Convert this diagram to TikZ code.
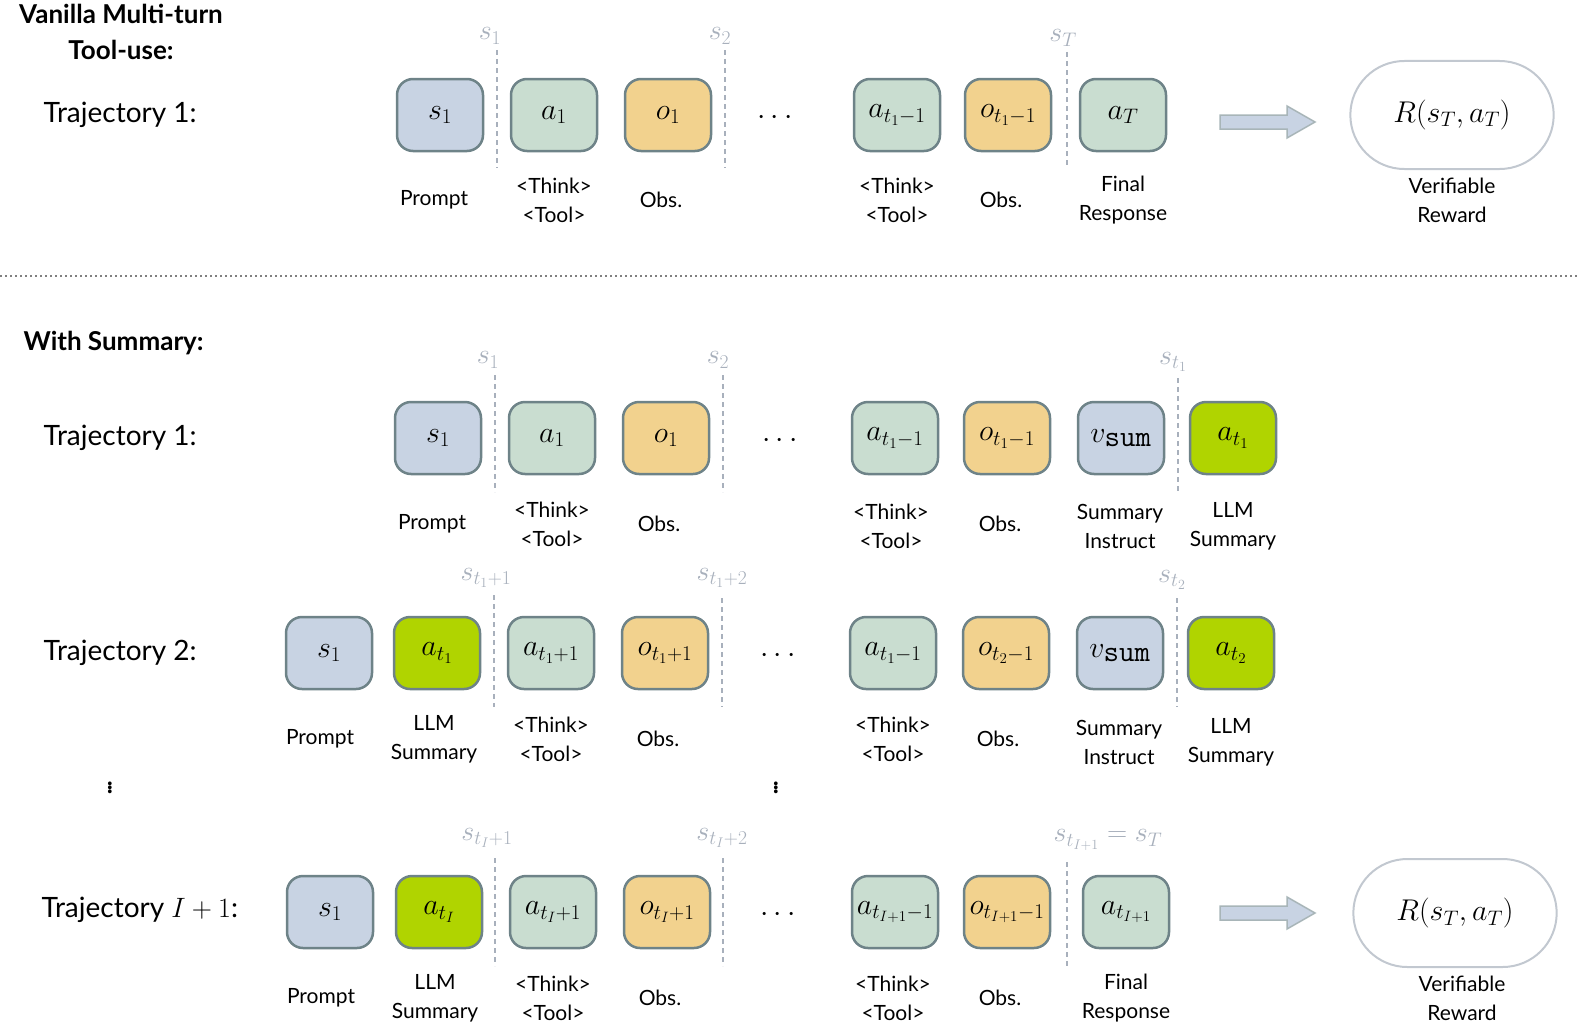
\RequirePackage{fix-cm}
\documentclass[tikz,border=0pt]{standalone}
\usepackage{fontspec}
\setmainfont{Lato}
\usetikzlibrary{arrows.meta,shapes.misc}
\definecolor{cb}{HTML}{C8D3E3}
\definecolor{cg}{HTML}{C9DDD0}
\definecolor{co}{HTML}{F2D28E}
\definecolor{cl}{HTML}{B0D400}
\definecolor{bd}{HTML}{6E8388}
\definecolor{lg}{HTML}{A8B0BC}
\tikzset{
 bx/.style={draw=bd,line width=2.5pt,rounded corners=16pt,minimum width=86pt,minimum height=72pt,inner sep=0pt,font=\fontsize{30}{30}\selectfont},
 cpt/.style={align=center,font=\fontsize{21}{29}\selectfont},
 trj/.style={anchor=west,font=\fontsize{28}{30}\selectfont},
 hd/.style={align=center,font=\fontsize{26}{36}\selectfont\bfseries},
 sl/.style={text=lg,font=\fontsize{28}{28}\selectfont},
 dl/.style={draw=lg,line width=2pt,dash pattern=on 5pt off 4pt},
 dots/.style={font=\fontsize{30}{30}\selectfont},
 rw/.style={draw=lg!70,line width=2pt,rounded rectangle,minimum width=210pt,minimum height=108pt,font=\fontsize{30}{30}\selectfont},
 ar/.style={draw=bd!60,fill=cb,line width=1.5pt,line join=miter},
}
\newcommand{\bigarrow}[2]{\draw[ar] (#1-47,#2-7) -- (#1+20,#2-7) -- (#1+20,#2-16) -- (#1+48,#2) -- (#1+20,#2+16) -- (#1+20,#2+7) -- (#1-47,#2+7) -- cycle;}
\begin{document}
\begin{tikzpicture}[x=1pt,y=-1pt]
\useasboundingbox (0,0) rectangle (1578,1033);
% headings
\node[hd] (h1) at (121,32) {Vanilla Multi-turn\\Tool-use:};
\node[hd,anchor=west] (h2) at (20,343) {With Summary:};
\draw[dash pattern=on 2pt off 3pt,line width=1.2pt,draw=gray] (0,276) coordinate (l1) -- (1578,276) coordinate (l2);
% ---------- Row 0
\node[trj] (t0) at (40,115) {Trajectory 1:};
\node[bx,fill=cb] (r0a) at (440,115) {$s_1$};
\node[bx,fill=cg] (r0b) at (554,115) {$a_1$};
\node[bx,fill=co] (r0c) at (668,115) {$o_1$};
\node[dots] (r0d) at (775,118) {$\cdots$};
\node[bx,fill=cg] (r0e) at (897,115) {$a_{t_1-1}$};
\node[bx,fill=co] (r0f) at (1008,115) {$o_{t_1-1}$};
\node[bx,fill=cg] (r0g) at (1123,115) {$a_T$};
\draw[dl] (497,50) -- (497,168); \draw[dl] (725,50) -- (725,168); \draw[dl] (1067,52) -- (1067,168);
\node[sl] (r0s1) at (490,36) {$s_1$};
\node[sl] (r0s2) at (720,36) {$s_2$};
\node[sl] (r0s3) at (1063,38) {$s_T$};
\node[cpt] at (434,200) {Prompt};
\node[cpt] at (554,200) {<Think>\\<Tool>};
\node[cpt] at (661,200) {Obs.};
\node[cpt] at (897,200) {<Think>\\<Tool>};
\node[cpt] at (1001,200) {Obs.};
\node[cpt] at (1123,200) {Final\\Response};
\bigarrow{1267}{122}
\node[rw] (rw0) at (1452,115) {$R(s_T,a_T)$};
\node[cpt] at (1452,200) {Verifiable\\Reward};
% ---------- Row 1
\node[trj] (t1) at (40,438) {Trajectory 1:};
\node[bx,fill=cb] (r1a) at (438,438) {$s_1$};
\node[bx,fill=cg] (r1b) at (552,438) {$a_1$};
\node[bx,fill=co] (r1c) at (666,438) {$o_1$};
\node[dots] (r1d) at (780,441) {$\cdots$};
\node[bx,fill=cg] (r1e) at (895,438) {$a_{t_1-1}$};
\node[bx,fill=co] (r1f) at (1007,438) {$o_{t_1-1}$};
\node[bx,fill=cb] (r1g) at (1121,438) {$v_{\texttt{sum}}$};
\node[bx,fill=cl] (r1h) at (1233,438) {$a_{t_1}$};
\draw[dl] (495,375) -- (495,492); \draw[dl] (723,375) -- (723,492); \draw[dl] (1178,378) -- (1178,492);
\node[sl] at (488,360) {$s_1$};
\node[sl] at (718,360) {$s_2$};
\node[sl] at (1173,362) {$s_{t_1}$};
\node[cpt] at (432,524) {Prompt};
\node[cpt] at (552,524) {<Think>\\<Tool>};
\node[cpt] at (659,524) {Obs.};
\node[cpt] at (891,526) {<Think>\\<Tool>};
\node[cpt] at (1000,524) {Obs.};
\node[cpt] at (1120,526) {Summary\\Instruct};
\node[cpt] at (1233,526) {LLM\\Summary};
% ---------- Row 2
\node[trj] (t2) at (40,653) {Trajectory 2:};
\node[bx,fill=cb] (r2a) at (329,653) {$s_1$};
\node[bx,fill=cl] (r2b) at (437,653) {$a_{t_1}$};
\node[bx,fill=cg] (r2c) at (551,653) {$a_{t_1+1}$};
\node[bx,fill=co] (r2d) at (665,653) {$o_{t_1+1}$};
\node[dots] (r2e) at (778,656) {$\cdots$};
\node[bx,fill=cg] (r2f) at (893,653) {$a_{t_1-1}$};
\node[bx,fill=co] (r2g) at (1006,653) {$o_{t_2-1}$};
\node[bx,fill=cb] (r2h) at (1120,653) {$v_{\texttt{sum}}$};
\node[bx,fill=cl] (r2i) at (1231,653) {$a_{t_2}$};
\draw[dl] (494,595) -- (494,707); \draw[dl] (722,598) -- (722,707); \draw[dl] (1177,598) -- (1177,707);
\node[sl] at (486,578) {$s_{t_1+1}$};
\node[sl] at (722,578) {$s_{t_1+2}$};
\node[sl] at (1172,580) {$s_{t_2}$};
\node[cpt] at (320,739) {Prompt};
\node[cpt] at (434,739) {LLM\\Summary};
\node[cpt] at (551,739) {<Think>\\<Tool>};
\node[cpt] at (658,739) {Obs.};
\node[cpt] at (893,739) {<Think>\\<Tool>};
\node[cpt] at (998,739) {Obs.};
\node[cpt] at (1119,742) {Summary\\Instruct};
\node[cpt] at (1231,742) {LLM\\Summary};
\node[dots] (vd1) at (110,785) {$\vdots$};
\node[dots] (vd2) at (776,785) {$\vdots$};
% ---------- Row 3
\node[trj] (t3) at (38,910) {Trajectory $I+1$:};
\node[bx,fill=cb] (r3a) at (330,912) {$s_1$};
\node[bx,fill=cl] (r3b) at (439,912) {$a_{t_I}$};
\node[bx,fill=cg] (r3c) at (553,912) {$a_{t_I+1}$};
\node[bx,fill=co] (r3d) at (667,912) {$o_{t_I+1}$};
\node[dots] (r3e) at (778,915) {$\cdots$};
\node[bx,fill=cg] (r3f) at (895,912) {$a_{t_{I+1}-1}$};
\node[bx,fill=co] (r3g) at (1007,912) {$o_{t_{I+1}-1}$};
\node[bx,fill=cg] (r3h) at (1126,912) {$a_{t_{I+1}}$};
\draw[dl] (495,858) -- (495,966); \draw[dl] (723,858) -- (723,966); \draw[dl] (1067,862) -- (1067,966);
\node[sl] at (487,838) {$s_{t_I+1}$};
\node[sl] at (722,838) {$s_{t_I+2}$};
\node[sl] at (1108,840) {$s_{t_{I+1}}=s_T$};
\node[cpt] at (321,998) {Prompt};
\node[cpt] at (435,998) {LLM\\Summary};
\node[cpt] at (553,998) {<Think>\\<Tool>};
\node[cpt] at (660,998) {Obs.};
\node[cpt] at (893,998) {<Think>\\<Tool>};
\node[cpt] at (1000,998) {Obs.};
\node[cpt] at (1126,998) {Final\\Response};
\bigarrow{1267}{913}
\node[rw] (rw1) at (1455,913) {$R(s_T,a_T)$};
\node[cpt] at (1462,998) {Verifiable\\Reward};
\end{tikzpicture}
\end{document}
